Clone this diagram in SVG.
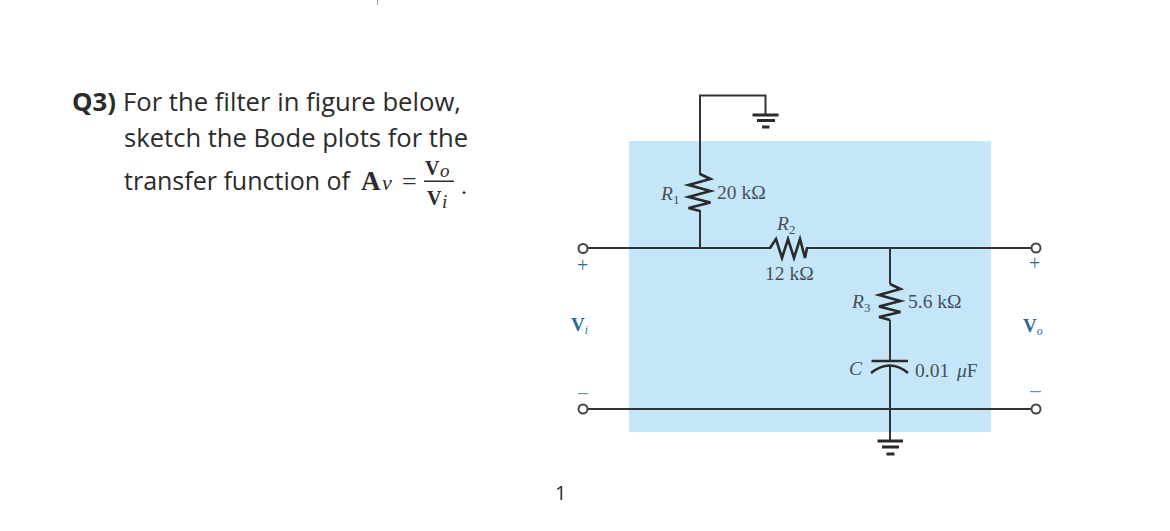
<svg xmlns="http://www.w3.org/2000/svg" width="1170" height="531" viewBox="0 0 1170 531">
<style>
.w{fill:none;stroke:#333;stroke-width:2}
.r{fill:none;stroke:#2a2a2a;stroke-width:2.6;stroke-linejoin:miter}
.g{fill:none;stroke:#2a2a2a;stroke-width:3}
.t{font-family:"Liberation Serif",serif;font-size:19.500px;fill:#46505a}
.i{font-style:italic}
.q{font-family:"Open Sans","Noto Sans",sans-serif;font-size:25px;fill:#2b2b2b}
.m{font-family:"Liberation Serif",serif;fill:#2b2b2b}
.b{font-family:"Liberation Serif",serif;fill:#2a6a9c}
.term{fill:#fff;stroke:#444;stroke-width:2}
</style>
<rect width="1170" height="531" fill="#fff"/>
<rect x="377" y="0" width="1" height="5" fill="#999"/>
<rect id="panel" x="629" y="141" width="362" height="291" fill="#c5e6f9"/>
<g id="question">
<text class="q" x="72" y="111" font-weight="700" textLength="44" lengthAdjust="spacingAndGlyphs">Q3)</text>
<text class="q" x="123" y="111" textLength="338" lengthAdjust="spacingAndGlyphs">For the filter in figure below,</text>
<text class="q" x="124" y="147" textLength="344" lengthAdjust="spacingAndGlyphs">sketch the Bode plots for the</text>
<text class="q" x="124" y="190" textLength="226" lengthAdjust="spacingAndGlyphs">transfer function of</text>
<text class="m" x="361" y="190" font-size="27" font-weight="700">A</text>
<text class="m" x="382" y="190" font-size="22" font-style="italic">v</text>
<text class="m" x="402" y="190" font-size="26">=</text>
<text class="m" x="425" y="175" font-size="20" font-weight="700">V</text><text class="m" x="440" y="177" font-size="19" font-style="italic">o</text>
<rect x="424" y="180.500" width="30" height="1.500" fill="#2b2b2b"/>
<text class="m" x="427" y="205" font-size="20" font-weight="700">V</text><text class="m" x="442" y="208" font-size="19" font-style="italic">i</text>
<text class="m" x="461" y="194" font-size="24">.</text>
</g>
<text id="page" x="555" y="500" font-family="Open Sans,Noto Sans,sans-serif" font-size="20" fill="#2b2b2b">1</text>
<g id="connectors">
<path class="w" d="M700 175V95.500H765.500V115"/>
<path class="w" d="M588 248H771M806 248H1031"/>
<path class="w" d="M588 409H1031"/>
<path class="w" d="M700 210V248"/>
<path class="w" d="M890 248V284M890 320V361M890 365V441"/>
</g>
<g id="R1"><path class="r" d="M700 174L710.500 179L688.500 185L710.500 191L688.500 197L710.500 202.500L688.500 208L700 211"/>
<text class="t i" x="661" y="200">R<tspan font-size="13" font-style="normal" dy="4">1</tspan></text>
<text class="t" x="717" y="199">20 kΩ</text></g>
<g id="R2"><path class="r" d="M770 248L776 239L782 258L788 239L794 258L800 239L805 258L807 248"/>
<text class="t i" x="777" y="230">R<tspan font-size="13" font-style="normal" dy="4">2</tspan></text>
<text class="t" x="765" y="280">12 kΩ</text></g>
<g id="R3"><path class="r" d="M890 284L900.500 289L879 295L900.500 301L879 306.500L900.500 312L879 317L890 320"/>
<text class="t i" x="852" y="308">R<tspan font-size="13" font-style="normal" dy="4">3</tspan></text>
<text class="t" x="908" y="307.500">5.6 kΩ</text></g>
<g id="C"><path class="r" d="M871.500 361H908M871 373Q890 358 908 373"/>
<text class="t i" x="849" y="375">C</text>
<text class="t" x="915" y="377" word-spacing="3">0.01 <tspan class="i">μ</tspan>F</text></g>
<g id="ground-top"><path class="g" d="M752.500 115H778.500M757 120.500H775M762 127H769.500"/></g>
<g id="ground-bottom"><path class="g" d="M877.500 441H903M882 447H899M886.500 454H894.500"/></g>
<g id="input">
<circle class="term" cx="583" cy="248.500" r="4.500"/><circle class="term" cx="583" cy="409" r="4.500"/>
<text class="b" x="577" y="271.500" font-size="20">+</text>
<text class="b" x="571" y="331" font-size="19" font-weight="700">V<tspan font-size="12" font-style="italic" font-weight="400" dy="3">i</tspan></text>
<rect x="578" y="393" width="10" height="1.200" fill="#6d8ea8"/>
</g>
<g id="output">
<circle class="term" cx="1036" cy="248" r="4.500"/><circle class="term" cx="1036" cy="409" r="4.500"/>
<text class="b" x="1029" y="270" font-size="20">+</text>
<text class="b" x="1023" y="332" font-size="19" font-weight="700">V<tspan font-size="12" font-style="italic" font-weight="400" dy="3">o</tspan></text>
<rect x="1030" y="391" width="11" height="1.200" fill="#6d8ea8"/>
</g>
</svg>
